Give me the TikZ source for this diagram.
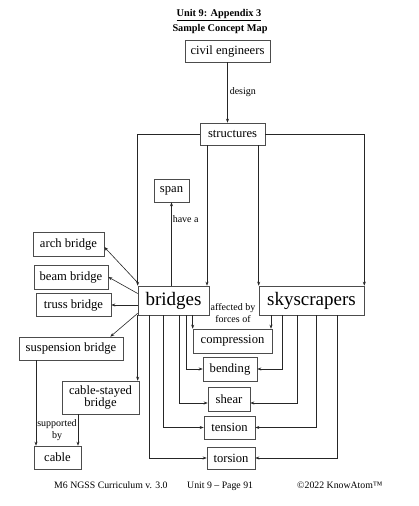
\documentclass[tikz,border=0pt]{standalone}
\usepackage{fontspec}
\setmainfont{Liberation Serif}
\usetikzlibrary{arrows.meta}
\begin{document}
\begin{tikzpicture}[x=1pt,y=-1pt,
  box/.style={draw=black!70, line width=0.6pt, inner sep=0pt, font=\fontsize{12.6}{14}\selectfont, align=center},
  big/.style={box, font=\fontsize{19}{21}\selectfont},
  lbl/.style={font=\fontsize{10}{11.5}\selectfont, align=center, inner sep=0pt},
  ttl/.style={font=\fontsize{10.3}{12}\selectfont\bfseries, inner sep=0pt},
  foot/.style={font=\fontsize{9.8}{11}\selectfont, inner sep=0pt, anchor=base west},
  arr/.style={draw=black!85, line width=0.6pt, -{Stealth[length=4pt,width=3pt]}}]

\fill[white] (0,0) rectangle (418,506);
\useasboundingbox (0,0) rectangle (418,506);

% title
\node[ttl] (t1) at (219,15) {\underline{Unit 9: Appendix 3}};
\node[ttl] (t2) at (220,29) {Sample Concept Map};

% column coordinates
\coordinate (c36) at (36,0);
\coordinate (c78) at (78,0);
\coordinate (c149) at (149,0);
\coordinate (c163) at (163,0);
\coordinate (c179) at (179,0);
\coordinate (c186) at (186,0);
\coordinate (c207) at (207,0);
\coordinate (c271) at (271,0);
\coordinate (c282) at (282,0);
\coordinate (c297) at (297,0);
\coordinate (c316) at (316,0);
\coordinate (c337) at (337,0);

% nodes
\node[box, minimum width=85pt, minimum height=22pt] (civil) at (227.5,51) {civil engineers};
\node[box, minimum width=65pt, minimum height=22pt] (structures) at (232.5,134) {structures};
\node[box, minimum width=35pt, minimum height=23pt] (span) at (171.5,190.5) {span};
\node[big, minimum width=71pt, minimum height=29pt] (bridges) at (173.5,300.5) {bridges};
\node[big, minimum width=105pt, minimum height=29pt] (sky) at (311.5,300.5) {skyscrapers};
\node[box, minimum width=71pt, minimum height=24pt] (arch) at (68.5,244) {arch bridge};
\node[box, minimum width=74pt, minimum height=24pt] (beam) at (71,277) {beam bridge};
\node[box, minimum width=75pt, minimum height=23pt] (truss) at (73.5,305) {truss bridge};
\node[box, minimum width=104pt, minimum height=23pt] (susp) at (71,348.5) {suspension bridge};
\node[box, minimum width=77pt, minimum height=33pt] (stayed) at (100.5,397.5) {cable-stayed\\[-2pt]bridge};
\node[box, minimum width=47pt, minimum height=23pt] (cable) at (57.5,457.5) {cable};
\node[box, minimum width=79pt, minimum height=24pt] (comp) at (232.5,341) {compression};
\node[box, minimum width=54pt, minimum height=24pt] (bend) at (230,369) {bending};
\node[box, minimum width=42pt, minimum height=24pt] (shear) at (229,399) {shear};
\node[box, minimum width=51pt, minimum height=23pt] (tens) at (229.5,427.5) {tension};
\node[box, minimum width=48pt, minimum height=22pt] (tors) at (231,458) {torsion};

% connectors
\draw[arr] (civil.south) -- (civil.south |- structures.north)
  node[lbl, midway, right=2pt] {design};
\draw[arr] (structures.west) -| (bridges.north west);
\draw[arr] (structures.east) -| (sky.north east);
\draw[arr] (c207 |- structures.south) -- (c207 |- bridges.north);
\draw[arr] (sky.north west |- structures.south) -- (sky.north west);
\draw[arr] (span.south |- bridges.north) -- (span.south)
  node[lbl, pos=0.8, right=1pt] {have a};

\draw[arr] ([yshift=3pt]bridges.north west) -- ([yshift=-3pt]arch.east);
\draw[arr] ([yshift=7pt]bridges.west) -- (beam.east);
\draw[arr] (bridges.west |- truss.east) -- (truss.east);
\draw[arr] ([yshift=2pt]bridges.south west) -- ([xshift=-13pt]susp.north east);
\draw[arr] (bridges.south west) -- (bridges.south west |- stayed.north);

\draw[arr] (c36 |- susp.south) -- (c36 |- cable.north);
\draw[arr] (c78 |- stayed.south) -- (c78 |- cable.north);
\node[lbl] (supby) at (57,430) {supported\\by};

\node[lbl] (aff) at (233,313) {affected by\\forces of};
\draw[arr] (comp.north west |- bridges.south) -- (comp.north west);
\draw[arr] (c271 |- sky.south) -- (c271 |- comp.north);
\draw[arr] (c186 |- bridges.south) |- (bend.west);
\draw[arr] (c282 |- sky.south) |- (bend.east);
\draw[arr] (c179 |- bridges.south) |- ([yshift=-4pt]shear.west);
\draw[arr] (c297 |- sky.south) |- ([yshift=-4pt]shear.east);
\draw[arr] (c163 |- bridges.south) |- (tens.west);
\draw[arr] (c316 |- sky.south) |- (tens.east);
\draw[arr] (c149 |- bridges.south) |- (tors.west);
\draw[arr] (c337 |- sky.south) |- (tors.east);

% footer
\node[foot] (f1) at (54,488) {M6 NGSS Curriculum v. 3.0};
\node[foot] (f2) at (187,488) {Unit 9 – Page 91};
\node[foot] (f3) at (297,488) {©2022 KnowAtom™};
\end{tikzpicture}
\end{document}
